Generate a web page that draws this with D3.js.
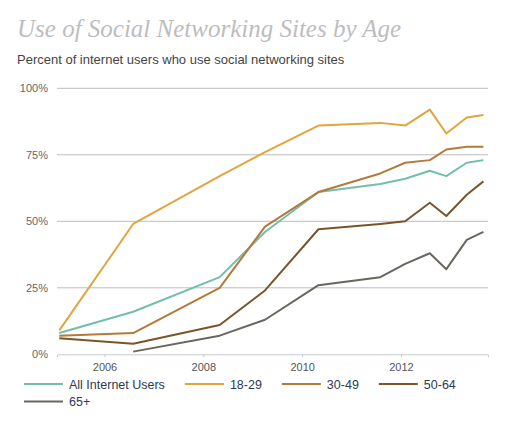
<!DOCTYPE html>
<html>
<head>
<meta charset="utf-8">
<script src="https://cdn.jsdelivr.net/npm/d3@7"></script>
<style>
  body { margin: 0; background: #fff; }
  svg { display: block; }
</style>
</head>
<body>
<div class="container"></div>
<script>
const size = {
    width: 508,
    height: 436
};

// survey dates (year, month index)
const dates = [[2005,1],[2006,7],[2008,4],[2009,3],[2010,4],[2011,7],[2012,1],[2012,7],[2012,11],[2013,4],[2013,8]];
const seriesNames = ["All Internet Users", "18-29", "30-49", "50-64", "65+"];
const allUsers = [8, 16, 29, 46, 61, 64, 66, 69, 67, 72, 73];
const age1829 = [9, 49, 67, 76, 86, 87, 86, 92, 83, 89, 90];
const age3049 = [7, 8, 25, 48, 61, 68, 72, 73, 77, 78, 78];
const age5064 = [6, 4, 11, 24, 47, 49, 50, 57, 52, 60, 65];
const age65 = [null, 1, 7, 13, 26, 29, 34, 38, 32, 43, 46];
const yTicks = [0, 25, 50, 75, 100];
const xTickYears = [2006, 2008, 2010, 2012];

const colors = ["#71bfaa", "#e1a53d", "#b47a3a", "#7b5529", "#6a665e"];
const allSeries = [allUsers, age1829, age3049, age5064, age65];

const svg = d3.select(".container")
              .append("svg")
              .attr("width", size.width)
              .attr("height", size.height);

svg.append("text")
   .attr("x", 17)
   .attr("y", 37)
   .attr("font-family", "Liberation Serif, serif")
   .attr("font-style", "italic")
   .attr("font-size", 25)
   .attr("fill", "#bdbdbd")
   .text("Use of Social Networking Sites by Age");

svg.append("text")
   .attr("x", 17)
   .attr("y", 64)
   .attr("font-family", "Liberation Sans, Arial, sans-serif")
   .attr("font-size", 13)
   .attr("fill", "#444")
   .text("Percent of internet users who use social networking sites");

const x = d3.scaleTime()
            .domain([new Date(2005, 0, 15), new Date(2013, 9, 5)])
            .range([57, 488]);

const y = d3.scaleLinear()
            .domain([0, 100])
            .range([354.3, 88.3]);

// gridlines + y labels
const grid = svg.append("g")
grid.selectAll("line")
    .data(yTicks.filter(d => d > 0))
    .enter()
    .append("line")
    .attr("x1", 57)
    .attr("x2", 488)
    .attr("y1", d => y(d))
    .attr("y2", d => y(d))
    .attr("stroke", "#bdbdbd")
    .attr("stroke-width", 1);

grid.selectAll("text")
    .data(yTicks)
    .enter()
    .append("text")
    .attr("x", 48)
    .attr("y", d => y(d) + 4)
    .attr("text-anchor", "end")
    .attr("font-family", "Liberation Sans, Arial, sans-serif")
    .attr("font-size", 11)
    .attr("fill", "#666")
    .text(d => d + "%");

// x axis
const xAxis = d3.axisBottom(x)
                .tickValues(xTickYears.map(yr => new Date(yr, 0, 1)))
                .tickFormat(d3.timeFormat("%Y"))
                .tickSize(3)
                .tickPadding(6);

const axisG = svg.append("g")
                 .attr("transform", `translate(0,${y(0)})`)
                 .call(xAxis);
axisG.select(".domain").attr("stroke", "#c5ccd6");
axisG.selectAll(".tick line").attr("stroke", "#c5ccd6");
axisG.selectAll(".tick text")
     .attr("font-family", "Liberation Sans, Arial, sans-serif")
     .attr("font-size", 11)
     .attr("fill", "#555");

// lines
const line = d3.line()
               .defined(d => d.v != null)
               .x(d => x(d.date))
               .y(d => y(d.v));

allSeries.forEach((vals, i) => {
    const pts = vals.map((v, j) => ({date: new Date(dates[j][0], dates[j][1], 1), v: v}));
    svg.append("path")
       .datum(pts)
       .attr("d", line)
       .attr("fill", "none")
       .attr("stroke", colors[i])
       .attr("stroke-width", 2)
       .attr("stroke-linejoin", "round");
});

// legend
const legend = svg.append("g")
let lx = 24, ly = 384;
seriesNames.forEach((name, i) => {
    const item = legend.append("g");
    item.append("line")
        .attr("x1", 0).attr("x2", 39)
        .attr("y1", 0).attr("y2", 0)
        .attr("stroke", colors[i])
        .attr("stroke-width", 2);
    const t = item.append("text")
        .attr("x", 45)
        .attr("y", 4.5)
        .attr("font-family", "Liberation Sans, Arial, sans-serif")
        .attr("font-size", 12.5)
        .attr("fill", "#2d3a55")
        .text(name);
    const w = 45 + t.node().getComputedTextLength() + 20;
    if (lx + w > 490) {
        lx = 24;
        ly += 17.5;
    }
    item.attr("transform", `translate(${lx},${ly})`);
    lx += w;
});
</script>
</body>
</html>
